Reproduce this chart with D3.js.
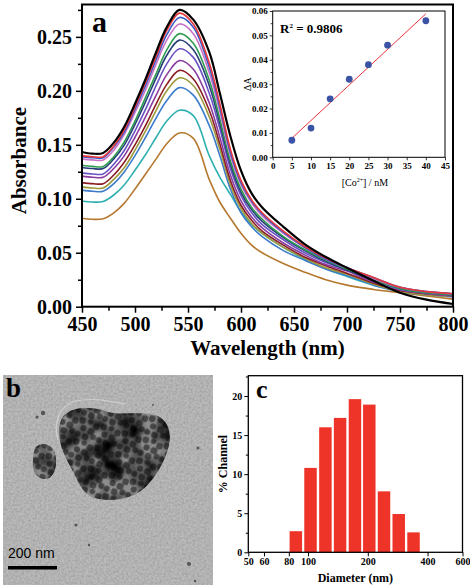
<!DOCTYPE html>
<html>
<head>
<meta charset="utf-8">
<script src="https://cdn.jsdelivr.net/npm/d3@7"></script>
<style>
  body { margin: 0; background: #fff; }
  svg { display: block; }
</style>
</head>
<body>
<svg id="fig" width="470" height="585"></svg>
<script>
// ---- panel a: UV-vis spectra ----
const wavelengths = [450, 460, 470, 480, 490, 500, 510, 520, 530, 542, 555, 570, 580, 590, 600, 610, 620, 640, 660, 680, 700, 725, 750, 775, 800];

const sBlack  = [.1433, .1418, .1425, .152, .167, .188, .211, .236, .259, .275, .266, .236, .198, .158, .126, .105, .092, .074, .058, .046, .036, .024, .013, .0065, .0025];
const sRed    = [.140, .139, .139, .149, .164, .185, .208, .232, .256, .272, .262, .226, .188, .146, .117, .099, .087, .070, .056, .045, .036, .027, .018, .014, .012];
const sBlue   = [.139, .138, .138, .148, .162, .183, .205, .229, .252, .268, .259, .222, .185, .143, .115, .098, .086, .069, .055, .044, .036, .027, .018, .014, .012];
const sPink   = [.137, .136, .136, .145, .160, .180, .201, .225, .247, .262, .253, .217, .181, .140, .113, .096, .084, .068, .055, .044, .036, .026, .018, .014, .012];
const sGreen  = [.131, .130, .130, .139, .153, .172, .194, .216, .238, .253, .244, .210, .174, .135, .109, .092, .081, .065, .053, .043, .035, .025, .017, .013, .011];
const sNavy   = [.129, .128, .128, .137, .150, .169, .190, .212, .233, .247, .238, .205, .170, .132, .106, .090, .079, .064, .052, .042, .034, .025, .017, .013, .011];
const sViolet = [.124, .123, .123, .132, .145, .163, .183, .205, .225, .239, .231, .198, .165, .128, .103, .087, .076, .062, .050, .041, .034, .024, .016, .013, .011];
const sPurple = [.121, .120, .120, .128, .140, .157, .176, .196, .215, .228, .220, .189, .157, .122, .098, .083, .073, .059, .048, .039, .033, .023, .016, .012, .010];
const sDkRed  = [.115, .114, .114, .122, .134, .150, .168, .188, .206, .219, .211, .182, .151, .117, .094, .080, .070, .057, .046, .038, .031, .022, .015, .012, .010];
const sOlive  = [.111, .110, .110, .118, .129, .145, .163, .182, .200, .212, .205, .176, .146, .113, .091, .077, .068, .055, .045, .036, .030, .021, .014, .011, .010];
const sBlue2  = [.108, .107, .107, .114, .125, .140, .157, .175, .191, .203, .196, .168, .140, .109, .087, .074, .065, .052, .043, .035, .029, .020, .014, .011, .009];
const sTeal   = [.098, .097, .0975, .1035, .113, .1265, .141, .157, .172, .182, .177, .140, .120, .104, .088, .076, .068, .055, .044, .035, .028, .020, .015, .012, .0105];
const sBrown  = [.082, .081, .0815, .087, .096, .109, .123, .137, .151, .161, .156, .118, .097, .082, .068, .057, .050, .040, .032, .025, .020, .016, .013, .010, .007];

// bottom to top drawing order
const spectra = [sBrown, sTeal, sBlue2, sOlive, sDkRed, sPurple, sViolet, sNavy, sGreen, sPink, sBlue, sRed, sBlack];
const spectraColors = ["#b5782e", "#2eb0b0", "#3b7ccc", "#9c9a3c", "#8c1c24", "#8a3d9e", "#6a52c4", "#263e78", "#2f9a4f", "#c873c8", "#3a5bc7", "#e8373c", "#000000"];

const yTicksA = [0, 0.05, 0.10, 0.15, 0.20, 0.25];
const xTicksA = [450, 500, 550, 600, 650, 700, 750, 800];

// ---- inset: calibration ----
const conc = [5, 10, 15, 20, 25, 30, 40];
const deltaA = [0.007, 0.012, 0.024, 0.032, 0.038, 0.046, 0.056];
const r2Label = "0.9806";

// ---- panel c: size distribution ----
const diameters = [86.8, 102.9, 122.3, 145, 172.3, 203.5, 241.4, 286.3, 340];
const channelPct = [2.7, 10.8, 16.0, 17.2, 19.6, 18.9, 7.8, 4.9, 2.55];
const xTicksC = [50, 60, 80, 100, 200, 400, 600];
const yTicksC = [0, 5, 10, 15, 20];

// ---- panel b: TEM picture (decoration, pixel coords inside the photo) ----
const temDots = [[40, 38, 2.2], [34, 42, 1.5], [195, 73, 1.5], [73, 150, 1.5], [86, 170, 1.2], [186, 189, 2], [192, 206, 1.2], [150, 30, 1]];
// one tile of the particle texture: [x, y, r]
const particleTile = [[4, 4, 3.4], [12, 3, 2.8], [19, 6, 3.4], [7, 11, 3.1], [15, 12, 3.6], [3, 18, 2.9], [11, 19, 3.4], [19, 17, 2.9]];

const svg = d3.select("#fig");
const serif = '"Liberation Serif", "DejaVu Serif", serif';

// ================= panel a =================
let a = {left: 82, right: 453, top: 4.5, bottom: 306.7};
let x = d3.scaleLinear().domain([450, 800]).range([a.left, a.right]);
let y = d3.scaleLinear().domain([0, 0.28]).range([a.bottom, a.top]);

let line = d3.line()
    .x((d, i) => x(wavelengths[i]))
    .y(d => y(d))
    .curve(d3.curveCatmullRom.alpha(0.5));

let gA = svg.append("g");
gA.selectAll("path.spec")
    .data(spectra)
    .enter()
    .append("path")
    .attr("class", "spec")
    .attr("fill", "none")
    .attr("stroke", (d, i) => spectraColors[i])
    .attr("stroke-width", (d, i) => i === spectra.length - 1 ? 2.2 : 1.6)
    .attr("d", line);

function styleAxis(g, size, bold) {
    g.select(".domain").remove();
    g.attr("font-family", null);
    g.selectAll("line").attr("stroke", "#000").attr("stroke-width", 1.5);
    g.selectAll("text")
        .attr("font-family", serif)
        .attr("font-weight", bold ? "bold" : "normal")
        .attr("font-size", size)
        .attr("fill", "#000");
}

gA.append("g")
    .attr("transform", "translate(0," + a.bottom + ")")
    .call(d3.axisBottom(x).tickValues(xTicksA).tickSize(6).tickPadding(4).tickFormat(d3.format("d")))
    .call(g => styleAxis(g, 20, true));
gA.append("g")
    .attr("transform", "translate(0," + a.bottom + ")")
    .call(d3.axisBottom(x).tickValues(d3.range(475, 800, 50)).tickSize(4).tickFormat(""))
    .call(g => styleAxis(g, 20, true));
gA.append("g")
    .attr("transform", "translate(" + a.left + ",0)")
    .call(d3.axisLeft(y).tickValues(yTicksA).tickSize(6).tickPadding(4).tickFormat(d3.format(".2f")))
    .call(g => styleAxis(g, 20, true));
gA.append("g")
    .attr("transform", "translate(" + a.left + ",0)")
    .call(d3.axisLeft(y).tickValues(d3.range(0.025, 0.28, 0.05)).tickSize(4).tickFormat(""))
    .call(g => styleAxis(g, 20, true));

gA.append("rect")
    .attr("x", a.left).attr("y", a.top)
    .attr("width", a.right - a.left).attr("height", a.bottom - a.top)
    .attr("fill", "none").attr("stroke", "#000").attr("stroke-width", 2);

gA.append("text")
    .attr("x", 92).attr("y", 32)
    .attr("font-family", serif).attr("font-weight", "bold").attr("font-size", 30)
    .text("a");
gA.append("text")
    .attr("x", (a.left + a.right) / 2).attr("y", 355)
    .attr("text-anchor", "middle")
    .attr("font-family", serif).attr("font-weight", "bold").attr("font-size", 21)
    .text("Wavelength (nm)");
gA.append("text")
    .attr("transform", "translate(26," + ((a.top + a.bottom) / 2 + 5) + ") rotate(-90)")
    .attr("text-anchor", "middle")
    .attr("font-family", serif).attr("font-weight", "bold").attr("font-size", 21)
    .text("Absorbance");

// ================= inset =================
let ins = {left: 272.7, right: 445, top: 11, bottom: 157.3};
let xi = d3.scaleLinear().domain([0, 45]).range([ins.left, ins.right]);
let yi = d3.scaleLinear().domain([0, 0.06]).range([ins.bottom, ins.top]);

let gI = svg.append("g");
gI.append("rect")
    .attr("x", ins.left).attr("y", ins.top)
    .attr("width", ins.right - ins.left).attr("height", ins.bottom - ins.top)
    .attr("fill", "#fff").attr("stroke", "#000").attr("stroke-width", 1);

gI.append("g")
    .attr("transform", "translate(0," + ins.bottom + ")")
    .call(d3.axisBottom(xi).tickValues(d3.range(0, 46, 5)).tickSize(3).tickPadding(2))
    .call(g => styleAxis(g, 9, true))
    .call(g => g.selectAll("line").attr("stroke-width", 0.8));
gI.append("g")
    .attr("transform", "translate(" + ins.left + ",0)")
    .call(d3.axisLeft(yi).tickValues(d3.range(0, 0.061, 0.01)).tickSize(3).tickPadding(2).tickFormat(d3.format(".2f")))
    .call(g => styleAxis(g, 9, true))
    .call(g => g.selectAll("line").attr("stroke-width", 0.8));
gI.append("g")
    .attr("transform", "translate(" + ins.left + ",0)")
    .call(d3.axisLeft(yi).tickValues(d3.range(0.005, 0.06, 0.01)).tickSize(2).tickFormat(""))
    .call(g => styleAxis(g, 9, true))
    .call(g => g.selectAll("line").attr("stroke-width", 0.8));

// least squares fit of the calibration points
let mx = d3.mean(conc), my = d3.mean(deltaA);
let slope = d3.sum(conc, (c, i) => (c - mx) * (deltaA[i] - my)) / d3.sum(conc, c => (c - mx) * (c - mx));
let icpt = my - slope * mx;
let fitEnds = [conc[0], conc[conc.length - 1]];

gI.append("path")
    .datum(fitEnds)
    .attr("fill", "none")
    .attr("stroke", "#e8333a")
    .attr("stroke-width", 1)
    .attr("d", d3.line().x(d => xi(d)).y(d => yi(slope * d + icpt)));

gI.selectAll("circle")
    .data(conc)
    .enter()
    .append("circle")
    .attr("cx", d => xi(d))
    .attr("cy", (d, i) => yi(deltaA[i]))
    .attr("r", 3.4)
    .attr("fill", "#3b53a4");

let r2 = gI.append("text")
    .attr("x", 280).attr("y", 33)
    .attr("font-family", serif).attr("font-weight", "bold").attr("font-size", 13);
r2.append("tspan").text("R");
r2.append("tspan").attr("dy", -5).attr("font-size", 7).text("2");
r2.append("tspan").attr("dy", 5).text(" = " + r2Label);

let xl = gI.append("text")
    .attr("x", (ins.left + ins.right) / 2 + 6).attr("y", 186)
    .attr("text-anchor", "middle")
    .attr("font-family", serif).attr("font-size", 10);
xl.append("tspan").text("[Co");
xl.append("tspan").attr("dy", -4).attr("font-size", 6).text("2+");
xl.append("tspan").attr("dy", 4).text("] / nM");

gI.append("text")
    .attr("transform", "translate(251," + ((ins.top + ins.bottom) / 2) + ") rotate(-90)")
    .attr("text-anchor", "middle")
    .attr("font-family", serif).attr("font-size", 10)
    .text("ΔA");

// ================= panel b (TEM picture) =================
let tem = {x: 3, y: 375, w: 210, h: 210};
let defs = svg.append("defs");

let grain = defs.append("filter").attr("id", "grain")
    .attr("filterUnits", "userSpaceOnUse")
    .attr("x", tem.x).attr("y", tem.y).attr("width", tem.w).attr("height", tem.h);
grain.append("feTurbulence").attr("type", "fractalNoise").attr("baseFrequency", 0.45).attr("numOctaves", 2).attr("seed", 2);
grain.append("feColorMatrix").attr("type", "matrix")
    .attr("values", "0 0 0 0 0  0 0 0 0 0  0 0 0 0 0  0.25 0 0 0 -0.08");
grain.append("feComposite").attr("in2", "SourceAlpha").attr("operator", "in");

let mottle = defs.append("filter").attr("id", "mottle")
    .attr("filterUnits", "userSpaceOnUse")
    .attr("x", tem.x).attr("y", tem.y).attr("width", tem.w).attr("height", tem.h);
mottle.append("feTurbulence").attr("type", "fractalNoise").attr("baseFrequency", 0.05).attr("numOctaves", 2).attr("seed", 5);
mottle.append("feColorMatrix").attr("type", "matrix")
    .attr("values", "0 0 0 0 0  0 0 0 0 0  0 0 0 0 0  2.2 0 0 0 -0.75");
mottle.append("feComposite").attr("in2", "SourceAlpha").attr("operator", "in");

let pat = defs.append("pattern").attr("id", "particles")
    .attr("patternUnits", "userSpaceOnUse")
    .attr("width", 22).attr("height", 22)
    .attr("patternTransform", "rotate(17)");
pat.selectAll("circle")
    .data(particleTile)
    .enter()
    .append("circle")
    .attr("cx", d => d[0]).attr("cy", d => d[1]).attr("r", d => d[2])
    .attr("fill", "#3c3c3c").attr("fill-opacity", 0.85);

let clusterPath = "M62,418 C70,406 92,406 108,412 C125,416 140,410 158,416 C172,424 172,440 166,455 " +
    "C160,470 150,486 136,494 C122,501 102,502 90,496 C80,490 76,476 68,462 C60,448 56,430 62,418 Z";
let smallPath = "M36,447 C44,440 55,446 56,458 C57,470 52,480 44,479 C36,478 32,470 33,460 C33,454 34,450 36,447 Z";

let cp = defs.append("clipPath").attr("id", "clusters");
cp.append("path").attr("d", clusterPath);
cp.append("path").attr("d", smallPath);

let gB = svg.append("g");
gB.append("rect")
    .attr("x", tem.x).attr("y", tem.y).attr("width", tem.w).attr("height", tem.h)
    .attr("fill", "#bababa");
gB.append("rect")
    .attr("x", tem.x).attr("y", tem.y).attr("width", tem.w).attr("height", tem.h)
    .attr("fill", "#000").attr("filter", "url(#grain)");
// faint film edge above the cluster
gB.append("path")
    .attr("d", "M58,440 C52,420 62,404 76,401 C96,397 112,402 126,404")
    .attr("fill", "none").attr("stroke", "#cfcfcf").attr("stroke-width", 1.2);
gB.append("path").attr("d", clusterPath).attr("fill", "#8c8c8c");
gB.append("path").attr("d", smallPath).attr("fill", "#8c8c8c");
let gPart = gB.append("g").attr("clip-path", "url(#clusters)");
gPart.append("rect")
    .attr("x", tem.x).attr("y", tem.y).attr("width", tem.w).attr("height", tem.h)
    .attr("fill", "url(#particles)");
gPart.append("rect")
    .attr("x", tem.x).attr("y", tem.y).attr("width", tem.w).attr("height", tem.h)
    .attr("fill", "#000").attr("filter", "url(#mottle)");
gB.selectAll("circle.dot")
    .data(temDots)
    .enter()
    .append("circle")
    .attr("class", "dot")
    .attr("cx", d => tem.x + d[0]).attr("cy", d => tem.y + d[1]).attr("r", d => d[2])
    .attr("fill", "#555");
gB.append("text")
    .attr("x", 6).attr("y", 397)
    .attr("font-family", serif).attr("font-weight", "bold").attr("font-size", 27)
    .text("b");
gB.append("text")
    .attr("x", 8).attr("y", 558)
    .attr("font-family", '"Liberation Sans", Arial, sans-serif').attr("font-size", 14)
    .text("200 nm");
gB.append("rect")
    .attr("x", 8).attr("y", 566).attr("width", 49).attr("height", 3.5)
    .attr("fill", "#000");

// ================= panel c =================
let c = {left: 248.3, right: 462.5, top: 375.7, bottom: 552.3};
let xc = d3.scaleLog().domain([50, 600]).range([c.left, c.right]);
let yc = d3.scaleLinear().domain([0, 22.6]).range([c.bottom, c.top]);
let halfBin = 1.075;

let gC = svg.append("g");
gC.selectAll("rect.bar")
    .data(diameters)
    .enter()
    .append("rect")
    .attr("class", "bar")
    .attr("x", d => xc(d / halfBin))
    .attr("width", d => xc(d * halfBin) - xc(d / halfBin))
    .attr("y", (d, i) => yc(channelPct[i]))
    .attr("height", (d, i) => yc(0) - yc(channelPct[i]))
    .attr("fill", "#ee3328");

gC.append("g")
    .attr("transform", "translate(0," + c.bottom + ")")
    .call(d3.axisBottom(xc).tickValues(xTicksC).tickSize(4).tickPadding(2).tickFormat(d3.format("d")))
    .call(g => styleAxis(g, 10, true))
    .call(g => g.selectAll("line").attr("stroke-width", 1));
gC.append("g")
    .attr("transform", "translate(" + c.left + ",0)")
    .call(d3.axisLeft(yc).tickValues(yTicksC).tickSize(4).tickPadding(2))
    .call(g => styleAxis(g, 10, true))
    .call(g => g.selectAll("line").attr("stroke-width", 1));
gC.append("g")
    .attr("transform", "translate(" + c.left + ",0)")
    .call(d3.axisLeft(yc).tickValues(d3.range(2.5, 22.6, 5)).tickSize(2.5).tickFormat(""))
    .call(g => styleAxis(g, 10, true))
    .call(g => g.selectAll("line").attr("stroke-width", 1));

gC.append("rect")
    .attr("x", c.left).attr("y", c.top)
    .attr("width", c.right - c.left).attr("height", c.bottom - c.top)
    .attr("fill", "none").attr("stroke", "#000").attr("stroke-width", 1.3);

gC.append("text")
    .attr("x", 256).attr("y", 398)
    .attr("font-family", serif).attr("font-weight", "bold").attr("font-size", 26)
    .text("c");
gC.append("text")
    .attr("x", (c.left + c.right) / 2).attr("y", 582)
    .attr("text-anchor", "middle")
    .attr("font-family", serif).attr("font-weight", "bold").attr("font-size", 12)
    .text("Diameter (nm)");
gC.append("text")
    .attr("transform", "translate(227," + ((c.top + c.bottom) / 2) + ") rotate(-90)")
    .attr("text-anchor", "middle")
    .attr("font-family", serif).attr("font-weight", "bold").attr("font-size", 12)
    .text("% Channel");
</script>
</body>
</html>
